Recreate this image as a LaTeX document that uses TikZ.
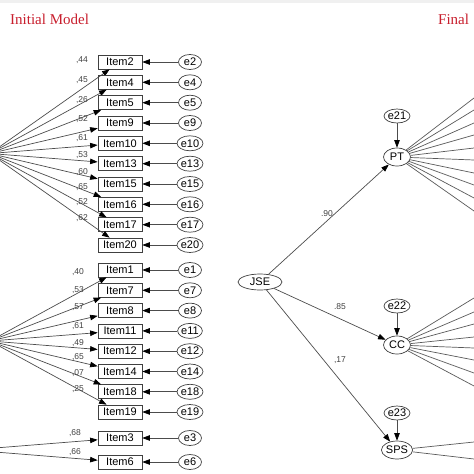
\documentclass[tikz,border=0pt]{standalone}
\usepackage{fontspec}
\setmainfont{Liberation Serif}
\setsansfont{Liberation Sans}
\usetikzlibrary{arrows.meta,calc,shapes.geometric}
\definecolor{amosred}{RGB}{200,30,45}
\tikzset{
  itembox/.style={draw=black!75, line width=0.7pt, minimum width=44pt, minimum height=14pt, inner sep=0pt, font=\sffamily\fontsize{11}{12}\selectfont},
  errnode/.style={draw=black!75, line width=0.7pt, ellipse, minimum width=23pt, minimum height=15pt, inner sep=0pt, font=\sffamily\fontsize{11}{12}\selectfont},
  latent/.style={draw=black!75, line width=0.7pt, ellipse, minimum width=27pt, minimum height=18pt, inner sep=0pt, font=\sffamily\fontsize{11}{12}\selectfont},
  regarrow/.style={draw=black!70, line width=0.7pt, -{Triangle[length=7.5pt,width=5.5pt,color=black]}},
  loadline/.style={draw=black!65, line width=0.7pt},
  coef/.style={font=\sffamily\fontsize{8.5}{9}\selectfont, text=black!75, inner sep=0pt},
  modeltitle/.style={text=amosred, font=\fontsize{15}{16}\selectfont, anchor=base west, inner sep=0pt}
}
\begin{document}
\begin{tikzpicture}[x=1pt,y=-1pt]
\clip (0,0) rectangle (474,474);
\fill[gray!12] (0,0) rectangle (474,3);
\node[modeltitle] (tinit) at (10,24) {Initial Model};
\node[modeltitle] (tfinal) at (438,24) {Final};
% sources of the three factors, left of the page
\coordinate (g1) at (-10,153.5);
\coordinate (g2) at (-10,341);
\coordinate (g3) at (-30,450);
% first factor
\foreach \name/\err/\y/\val/\vy in {Item2/e2/62/44/60.5,Item4/e4/82.3/45/80,Item5/e5/102.7/26/100,Item9/e9/123/52/119,Item10/e10/143.3/61/138,Item13/e13/163.7/53/155.5,Item15/e15/184/60/172.5,Item16/e16/204.3/65/187.5,Item17/e17/224.7/52/202.5,Item20/e20/245/62/218.5}{
  \node[itembox] (\name) at (120,\y) {\name};
  \node[errnode] (\err) at (190,\y) {\err};
  \draw[regarrow] (\err) -- (\name);
  \draw[regarrow] (g1) -- (\name);
  \node[coef] at (82,\vy) {,\val};
}
% second factor
\foreach \name/\err/\y/\val/\vy in {Item1/e1/270/40/272,Item7/e7/290.3/53/290,Item8/e8/310.6/57/307.5,Item11/e11/330.9/61/326.5,Item12/e12/351.2/49/343,Item14/e14/371.5/65/357.5,Item18/e18/391.8/07/373,Item19/e19/412/25/389}{
  \node[itembox] (\name) at (120,\y) {\name};
  \node[errnode] (\err) at (190,\y) {\err};
  \draw[regarrow] (\err) -- (\name);
  \draw[regarrow] (g2) -- (\name);
  \node[coef] at (78,\vy) {,\val};
}
% third factor
\foreach \name/\err/\y/\val/\vy in {Item3/e3/438/68/433,Item6/e6/462/66/452}{
  \node[itembox] (\name) at (120,\y) {\name};
  \node[errnode] (\err) at (190,\y) {\err};
  \draw[regarrow] (\err) -- (\name);
  \draw[regarrow] (g3) -- (\name);
  \node[coef] at (75,\vy) {,\val};
}
% final model
\node[latent, minimum width=44pt, minimum height=16pt] (JSE) at (260,282) {JSE};
\node[latent] (PT) at (397,157) {PT};
\node[latent] (CC) at (397,345) {CC};
\node[latent] (SPS) at (397,450) {SPS};
\node[errnode, minimum height=14pt] (e21) at (397,116) {e21};
\node[errnode, minimum height=14pt] (e22) at (397,306) {e22};
\node[errnode, minimum height=14pt] (e23) at (397,413) {e23};
\draw[regarrow] (e21) -- (PT);
\draw[regarrow] (e22) -- (CC);
\draw[regarrow] (e23) -- (SPS);
\draw[regarrow] (JSE) -- (PT);
\draw[regarrow] (JSE) -- (CC);
\draw[regarrow] (JSE) -- (SPS);
\node[coef] at (327,214) {.90};
\node[coef] at (340,307) {.85};
\node[coef] at (340,360) {,17};
\foreach \y in {98,110,123,135,148,160,173,185,198,211}
  \draw[loadline] (PT) -- ($(PT.center)!1.1!(474,\y)$);
\foreach \y in {298,312,324,337,348,360,373,386}
  \draw[loadline] (CC) -- ($(CC.center)!1.1!(474,\y)$);
\foreach \y in {442,459}
  \draw[loadline] (SPS) -- ($(SPS.center)!1.1!(474,\y)$);
\end{tikzpicture}
\end{document}
